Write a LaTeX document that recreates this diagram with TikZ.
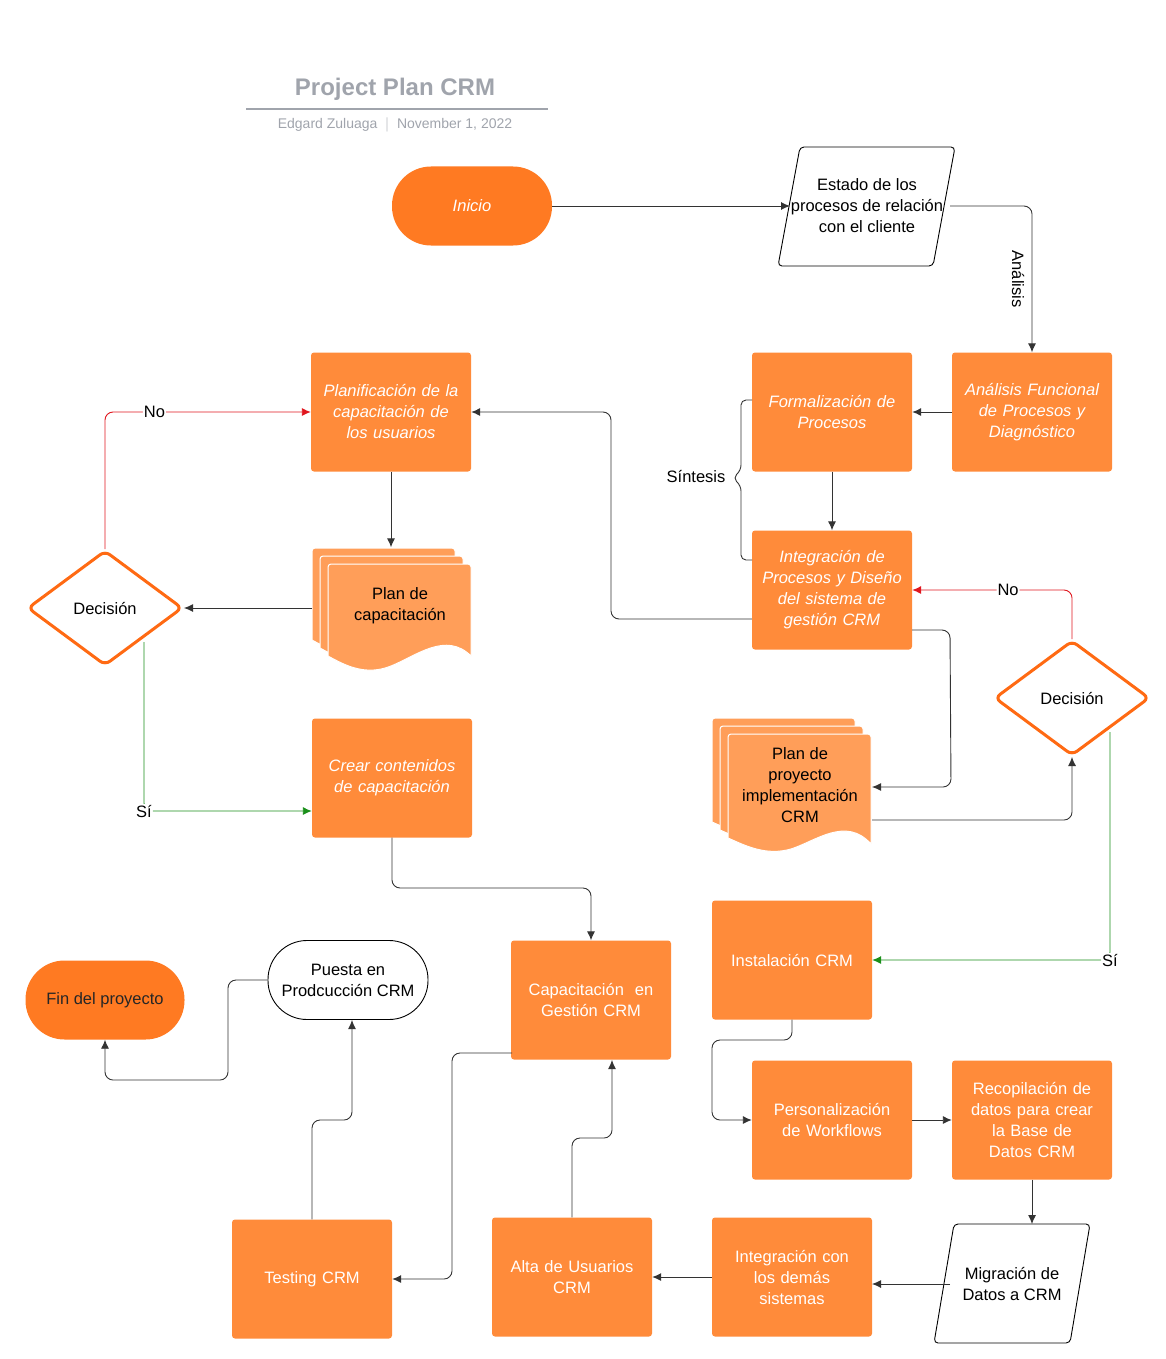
\documentclass[tikz,border=0pt]{standalone}
\usepackage{fontspec}
\setmainfont{Liberation Sans}
\usetikzlibrary{shapes.geometric,arrows.meta,calc}
\definecolor{orA}{HTML}{FF7A22}
\definecolor{orB}{HTML}{FF8B3A}
\definecolor{orC}{HTML}{FF9E59}
\definecolor{orD}{HTML}{FF6A13}
\definecolor{gtx}{HTML}{A0A4AC}
\definecolor{ered}{HTML}{E0161E}
\definecolor{egrn}{HTML}{1A8F1A}
\begin{document}
\begin{tikzpicture}[x=1pt,y=-1pt,
  every node/.style={font=\fontsize{16.5}{21}\selectfont, align=center},
  box/.style={fill=orB, rounded corners=3, minimum width=160, minimum height=119, text=white, text width=152, inner sep=2},
  ibox/.style={box, font=\fontsize{16.5}{21}\selectfont\itshape},
  stad/.style={rounded corners=39, minimum width=160, minimum height=79},
  dec/.style={diamond, draw=orD, line width=3, fill=white, rounded corners=6, minimum width=155, minimum height=115, inner sep=0},
  ghost/.style={minimum width=#1, minimum height=119, inner sep=0},
  con/.style={draw=black!80, line width=0.9, rounded corners=8, -{Latex[length=9,width=8]}},
  lab/.style={fill=white, inner sep=1}]
\useasboundingbox (0,0) rectangle (1166,1359);
% title
\node[text=gtx, font=\fontsize{24}{28}\selectfont\bfseries] (title) at (395,89) {Project Plan CRM};
\draw[gtx, line width=1.3] (246,109) -- (548,109);
\node[text=gtx, font=\fontsize{14}{17}\selectfont] (sub) at (395,125) {Edgard Zuluaga \ $|$ \ November 1, 2022};
% nodes
\node[stad, fill=orA, text=white, font=\fontsize{16.5}{21}\selectfont\itshape] (inicio) at (472,206) {Inicio};
\draw[line width=0.9, rounded corners=4] (800,147) -- (955,147) -- (933,266) -- (778,266) -- cycle;
\node[ghost=150] (estado) at (867,206) {Estado de los\\procesos de relación\\con el cliente};
\node[ibox] (anal) at (1032,412) {Análisis Funcional\\de Procesos y\\Diagnóstico};
\node[ibox] (form) at (832,412) {Formalización de\\Procesos};
\node[ibox] (plan) at (391,412) {Planificación de la\\capacitación de\\los usuarios};
\node[ibox] (integ) at (832,590) {Integración de\\Procesos y Diseño\\del sistema de\\gestión CRM};
% doc stacks
\foreach \dx in {0,8,16}{
  \fill[orC, draw=white, line width=1] (312+\dx,556+\dx) -- (312+\dx,552+\dx) [rounded corners=3] -- (312+\dx,548+\dx) -- (455+\dx,548+\dx) [sharp corners] -- (455+\dx,640+\dx) .. controls (430+\dx,615+\dx) and (400+\dx,640+\dx) .. (375+\dx,650+\dx) .. controls (350+\dx,660+\dx) and (330+\dx,650+\dx) .. (312+\dx,640+\dx) -- cycle;
}
\node[ghost=159] (pcap) at (391,607) {};
\node (pcapt) at (400,606) {Plan de\\capacitación};
\foreach \dx in {0,8,16}{
  \fill[orC, draw=white, line width=1] (712+\dx,726+\dx) [rounded corners=3] -- (712+\dx,718+\dx) -- (855+\dx,718+\dx) [sharp corners] -- (855+\dx,828+\dx) .. controls (830+\dx,800+\dx) and (800+\dx,825+\dx) .. (775+\dx,833+\dx) .. controls (750+\dx,840+\dx) and (730+\dx,830+\dx) .. (712+\dx,822+\dx) -- cycle;
}
\node[ghost=160] (pproy) at (792,786) {};
\node (pproyt) at (800,785) {Plan de\\proyecto\\implementación\\CRM};
\node[dec] (decL) at (105,608) {Decisión};
\node[dec] (decR) at (1072,698) {Decisión};
\node[ibox] (crear) at (392,778) {Crear contenidos\\de capacitación};
\node[box] (capac) at (591,1000) {Capacitación \ en\\Gestión CRM};
\node[box] (inst) at (792,960) {Instalación CRM};
\node[stad, draw=black, line width=0.9, fill=white] (puesta) at (348,980) {Puesta en\\Prodcucción CRM};
\node[stad, fill=orA, text=black!85, minimum width=159] (fin) at (105,1000) {Fin del proyecto};
\node[box] (pers) at (832,1120) {Personalización\\de Workflows};
\node[box] (recop) at (1032,1120) {Recopilación de\\datos para crear\\la Base de\\Datos CRM};
\node[box] (test) at (312,1279) {Testing CRM};
\node[box] (alta) at (572,1277) {Alta de Usuarios\\CRM};
\node[box] (intcon) at (792,1277) {Integración con\\los demás\\sistemas};
\draw[line width=0.9, rounded corners=4] (954,1224) -- (1090,1224) -- (1070,1343) -- (934,1343) -- cycle;
\node[ghost=140] (migr) at (1012,1284) {Migración de\\Datos a CRM};
% connectors
\draw[con] (inicio.east) -- (790,206);
\draw[con] (950,206) -| (anal.north) node[pos=0.75, lab, rotate=-90, xshift=0, yshift=-14] {Análisis};
\draw[con] (anal.west) -- (form.east);
\draw[con] (form.south) -- (integ.north);
\draw[line width=0.9, rounded corners=5, black!80] (752,400) -- (741,400) -- (741,470) -- (733,478) -- (741,486) -- (741,560) -- (752,560);
\node (sint) at (696,477) {Síntesis};
\draw[con] ([yshift=-29]integ.west) -| (611,412) -- (plan.east);
\draw[con] (plan.south) -- (plan.south |- pcap.north);
\draw[con] (312,608) -- (decL.east);
\draw[con, ered] (decL.north) |- (plan.west) node[pos=0.62, lab, text=black] {No};
\draw[con, egrn] (144,642) |- ([yshift=-33]crear.west) node[pos=0.5, lab, text=black] {Sí};
\draw[con] ([yshift=-40]integ.east) -- (950,630) -- (951,787) -- (872,787);
\draw[con] (872,820) -| (decR.south);
\draw[con, ered] (decR.north) |- (integ.east) node[pos=0.7, lab, text=black] {No};
\draw[con, egrn] (1110,732) |- (inst.east) node[pos=0.5, lab, text=black] {Sí};
\draw[con] (crear.south) -- (392,888) -| (capac.north);
\draw[con] (inst.south) -- (792,1040) -- (712,1040) |- (pers.west);
\draw[con] (pers.east) -- (recop.west);
\draw[con] (recop.south) -- (1032,1224);
\draw[con] (950,1284) -- (872,1284);
\draw[con] (intcon.west) -- (alta.east);
\draw[con] (alta.north) -- (572,1138) -- (612,1138) -- (612,1060);
\draw[con] (512,1053) -- (452,1053) |- (test.east);
\draw[con] (test.north) -- (312,1120) -- (352,1120) -- (352,1020);
\draw[con] (puesta.west) -- (228,980) -- (228,1080) -| (fin.south);
\end{tikzpicture}
\end{document}
